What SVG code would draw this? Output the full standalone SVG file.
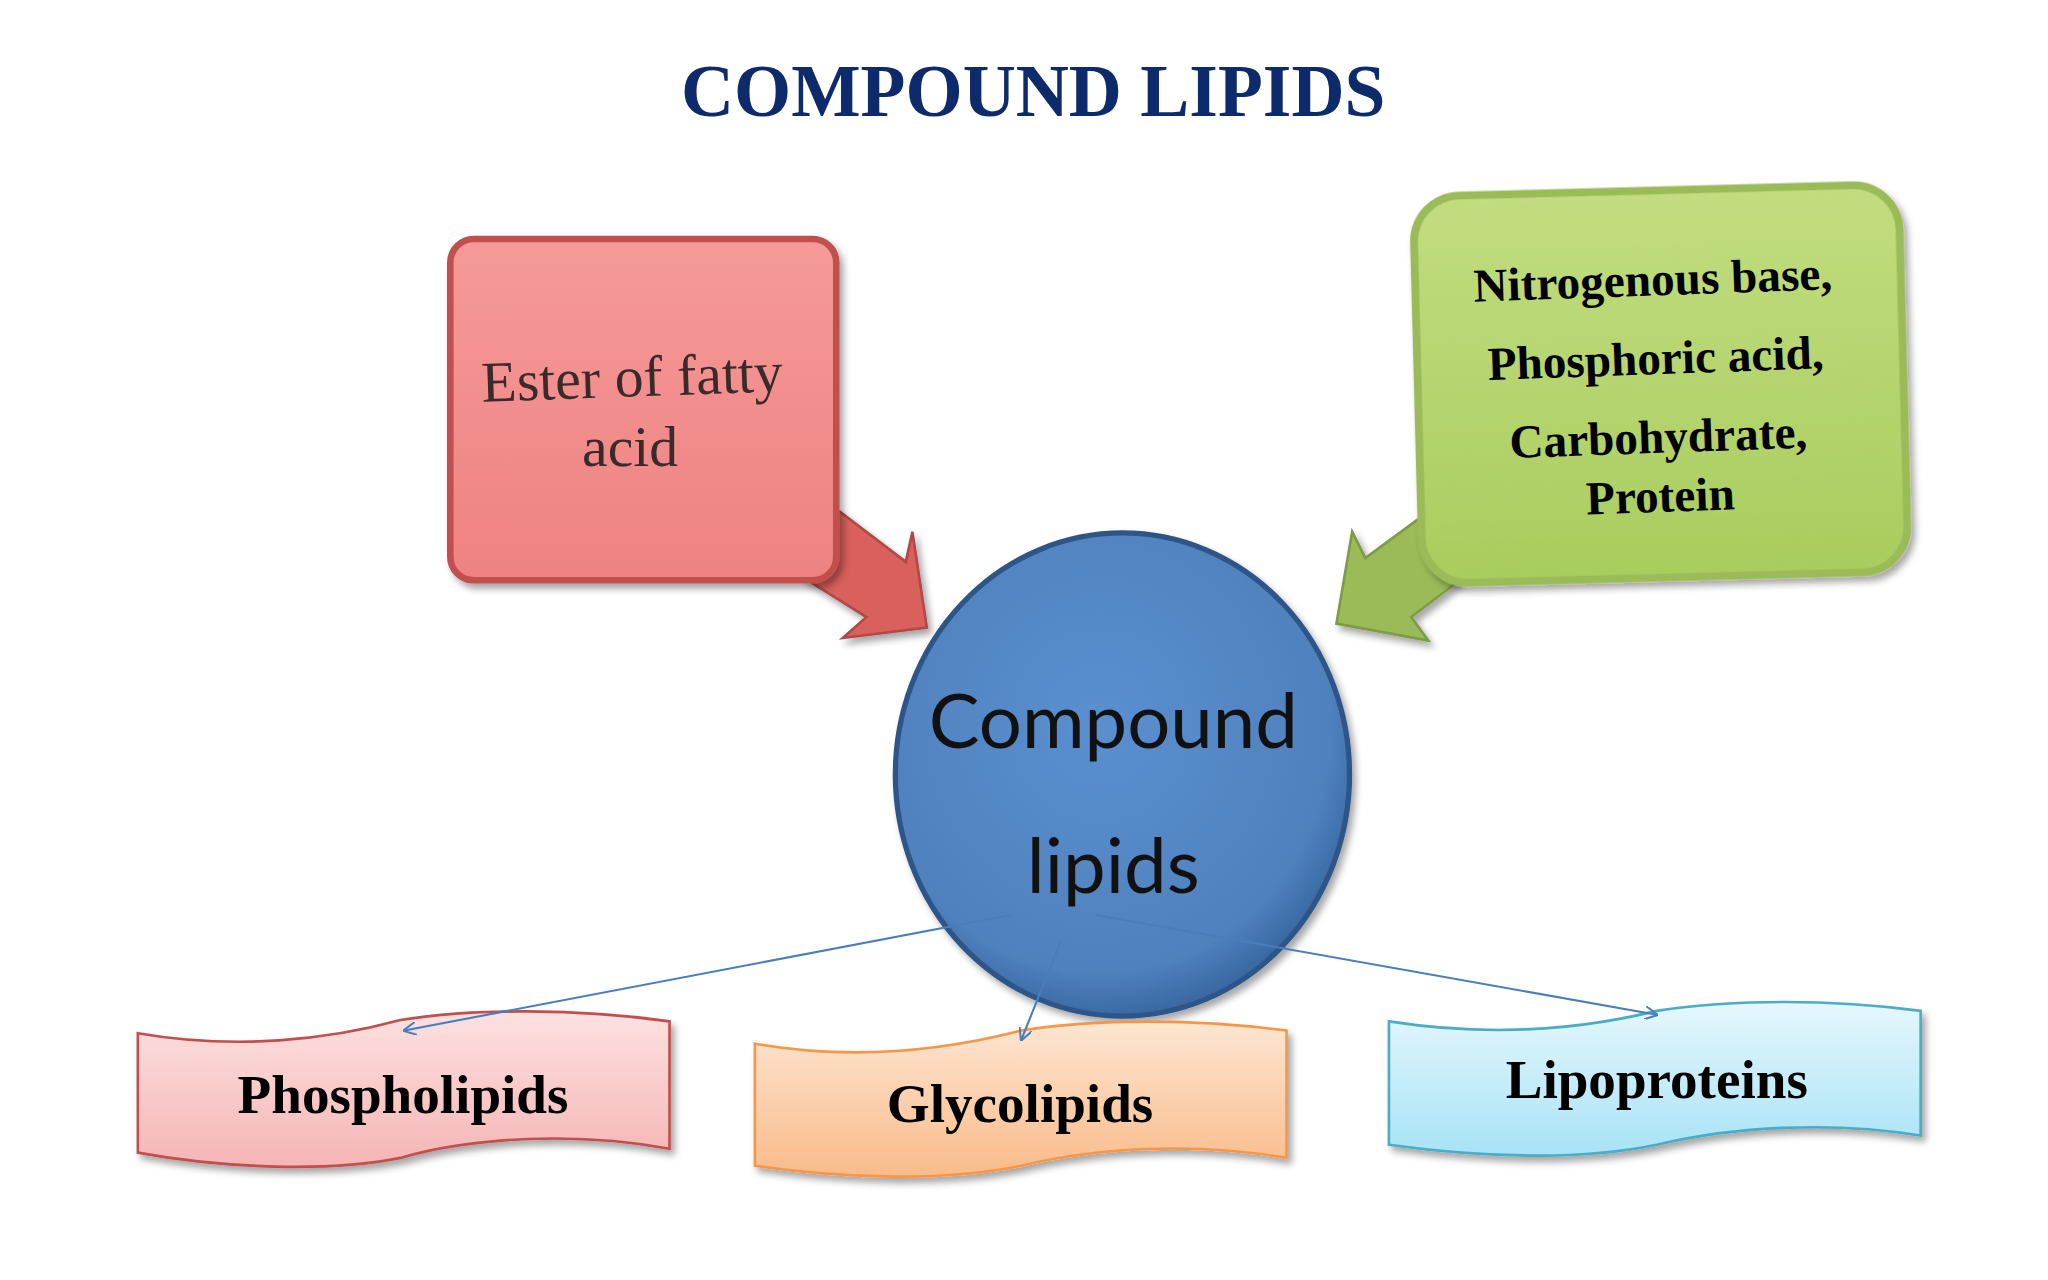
<svg xmlns="http://www.w3.org/2000/svg" width="2048" height="1280" viewBox="0 0 2048 1280">
<defs>
<linearGradient id="gr" x1="0" y1="0" x2="0" y2="1"><stop offset="0" stop-color="#f59a98"/><stop offset="1" stop-color="#ee8282"/></linearGradient>
<linearGradient id="gg" x1="0" y1="0" x2="0" y2="1"><stop offset="0" stop-color="#c2dd80"/><stop offset="1" stop-color="#a9cc5e"/></linearGradient>
<radialGradient id="gb" cx="0.45" cy="0.4" r="0.6"><stop offset="0" stop-color="#5b8fd0"/><stop offset="0.85" stop-color="#4f81bd"/><stop offset="1" stop-color="#3a6aa3"/></radialGradient>
<linearGradient id="gp" x1="0" y1="0" x2="0" y2="1"><stop offset="0" stop-color="#fde1e1"/><stop offset="1" stop-color="#f5b5b5"/></linearGradient>
<linearGradient id="go" x1="0" y1="0" x2="0" y2="1"><stop offset="0" stop-color="#fde6d2"/><stop offset="1" stop-color="#f9bb8a"/></linearGradient>
<linearGradient id="gc" x1="0" y1="0" x2="0" y2="1"><stop offset="0" stop-color="#e6f7fd"/><stop offset="1" stop-color="#a8e3f6"/></linearGradient>
<marker id="ah" viewBox="0 0 10 10" refX="9" refY="5" markerWidth="10" markerHeight="10" orient="auto" markerUnits="userSpaceOnUse"><path d="M0,0 L10,5 L0,10" fill="none" stroke="#4a7ebb" stroke-width="1.5"/></marker>
<filter id="sh"><feDropShadow dx="3" dy="4" stdDeviation="3" flood-opacity="0.35"/></filter>
</defs>
<style>
.ser{font-family:"Liberation Serif","DejaVu Serif",serif;text-anchor:middle}
.bb{font-weight:bold;fill:#000}
</style>
<g transform="scale(1.3128)">
<g id="title"><text class="ser" x="787" y="88" font-size="56" font-weight="bold" fill="#0d2a6b">COMPOUND LIPIDS</text></g>
<g id="ester">
<polygon points="615,380 640,390 690,428 695,405 706,478 642,486 660,470 612,440" fill="#d9605c" stroke="#b04a47" stroke-width="2" filter="url(#sh)"/>
<rect x="343" y="182" width="294" height="260" rx="18" fill="url(#gr)" stroke="#c0504d" stroke-width="5" filter="url(#sh)"/>
<text class="ser" x="482" y="302" font-size="44" fill="#3a2a2a" transform="rotate(-2 482 302)">Ester of fatty</text>
<text class="ser" x="480" y="355" font-size="44" fill="#3a2a2a">acid</text>
</g>
<g id="components">
<polygon points="1085,392 1040,425 1030,405 1018,475 1088,488 1075,470 1112,442" fill="#9bbb59" stroke="#7f9a48" stroke-width="2" filter="url(#sh)"/>
<rect x="1080" y="145" width="370" height="295" rx="35" fill="url(#gg)" stroke="#9bbb59" stroke-width="6" filter="url(#sh)" transform="rotate(-1.5 1265 292)"/>
<g transform="rotate(-2 1262 300)" class="ser bb" font-size="36">
<text x="1262" y="225">Nitrogenous base,</text>
<text x="1262" y="285">Phosphoric acid,</text>
<text x="1262" y="345">Carbohydrate,</text>
<text x="1262" y="390">Protein</text>
</g>
</g>
<g id="center">
<ellipse cx="855" cy="590" rx="173" ry="184" fill="url(#gb)" stroke="#2f5487" stroke-width="4" filter="url(#sh)"/>
<text x="848" y="570" font-family="Lato,'Noto Sans',sans-serif" font-size="58" text-anchor="middle" fill="#111">Compound</text>
<text x="848" y="680" font-family="Lato,'Noto Sans',sans-serif" font-size="58" text-anchor="middle" fill="#111">lipids</text>
</g>
<g id="phospholipids">
<path d="M105,787 C180,800 250,792 305,777 C360,768 440,768 510,778 L510,875 C440,862 360,866 305,882 C250,893 170,890 105,878 Z" fill="url(#gp)" stroke="#c0504d" stroke-width="2" filter="url(#sh)"/>
<text class="ser bb" x="307" y="848" font-size="42">Phospholipids</text>
</g>
<g id="glycolipids">
<path d="M575,795 C650,808 720,800 778,785 C835,776 910,776 980,785 L980,882 C910,870 835,874 778,888 C720,900 645,898 575,888 Z" fill="url(#go)" stroke="#f79646" stroke-width="2" filter="url(#sh)"/>
<text class="ser bb" x="777" y="855" font-size="42">Glycolipids</text>
</g>
<g id="lipoproteins">
<path d="M1058,778 C1135,790 1205,784 1262,770 C1320,761 1395,761 1463,770 L1463,865 C1395,854 1320,858 1262,872 C1205,884 1130,882 1058,872 Z" fill="url(#gc)" stroke="#4bacc6" stroke-width="2" filter="url(#sh)"/>
<text class="ser bb" x="1262" y="836" font-size="42">Lipoproteins</text>
</g>
<g id="connectors" stroke="#4a7ebb" stroke-width="1.6" fill="none" marker-end="url(#ah)">
<line x1="770" y1="697" x2="308" y2="785"/>
<line x1="808" y1="717" x2="778" y2="792"/>
<line x1="835" y1="697" x2="1262" y2="773"/>
</g>
</g>
</svg>
